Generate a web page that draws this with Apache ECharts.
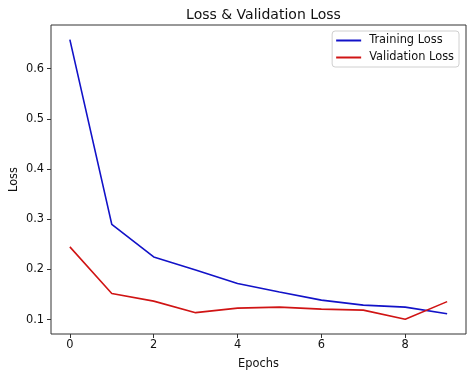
<!DOCTYPE html>
<html><head><meta charset="utf-8">
<script src="https://cdn.jsdelivr.net/npm/echarts@6/dist/echarts.min.js"></script>
<style>html,body{margin:0;padding:0;background:#fff}#c{width:474px;height:378px}</style>
</head><body><div id="c"></div>
<script>
const epochs = [0,1,2,3,4,5,6,7,8,9];
const trainingLoss = [0.658, 0.290, 0.225, 0.199, 0.172, 0.155, 0.139, 0.129, 0.125, 0.112];
const validationLoss = [0.245, 0.152, 0.137, 0.114, 0.123, 0.125, 0.121, 0.119, 0.101, 0.136];
const xTicks = [0,2,4,6,8];
const yTicks = [0.1,0.2,0.3,0.4,0.5,0.6];

const font = 'DejaVu Sans';
const fs = 11.4;
const chart = echarts.init(document.getElementById('c'), null, {renderer:'canvas'});
chart.setOption({
  animation:false,
  backgroundColor:'#fff',
  title:{text:'Loss & Validation Loss', left:258.5, textAlign:'center', top:3,
    textStyle:{fontFamily:font, fontSize:14, fontWeight:'normal', color:'#111'}},
  legend:{right:15, top:31, orient:'vertical', itemWidth:25, itemHeight:2, itemGap:6,
    icon:'rect', borderColor:'#d0d0d0', borderWidth:1, borderRadius:3, padding:[4,5,4,4],
    textStyle:{fontFamily:font, fontSize:fs, color:'#111', padding:[0,0,0,3]},
    data:['Training Loss','Validation Loss']},
  grid:{left:51, right:8, top:25, bottom:44, show:true, borderColor:'#333', borderWidth:1,
    containLabel:false, outerBoundsMode:'none'},
  xAxis:{type:'value', min:-0.45, max:9.45, name:'Epochs', nameLocation:'middle', nameGap:25,
    nameMoveOverlap:false,
    nameTextStyle:{fontFamily:font, fontSize:fs, color:'#111'},
    axisLine:{show:false, onZero:false}, splitLine:{show:false},
    axisTick:{show:true, length:4, inside:false, customValues:xTicks, lineStyle:{color:'#333', width:1}},
    axisLabel:{customValues:xTicks, margin:6, fontFamily:font, fontSize:fs, color:'#111'}},
  yAxis:{type:'value', min:0.0715, max:0.687, name:'Loss', nameLocation:'middle', nameGap:31,
    nameMoveOverlap:false,
    nameTextStyle:{fontFamily:font, fontSize:fs, color:'#111'},
    axisLine:{show:false, onZero:false}, splitLine:{show:false},
    axisTick:{show:true, length:4, customValues:yTicks, lineStyle:{color:'#333', width:1}},
    axisLabel:{customValues:yTicks, margin:7, fontFamily:font, fontSize:fs, color:'#111',
      formatter:v=>String(Math.round(v*10)/10)}},
  series:[
    {name:'Training Loss', type:'line', showSymbol:false, color:'#1212c8',
      lineStyle:{width:1.6, color:'#1212c8'}, data:epochs.map((e,i)=>[e,trainingLoss[i]])},
    {name:'Validation Loss', type:'line', showSymbol:false, color:'#d01414',
      lineStyle:{width:1.6, color:'#d01414'}, data:epochs.map((e,i)=>[e,validationLoss[i]])}
  ]
});
</script></body></html>
